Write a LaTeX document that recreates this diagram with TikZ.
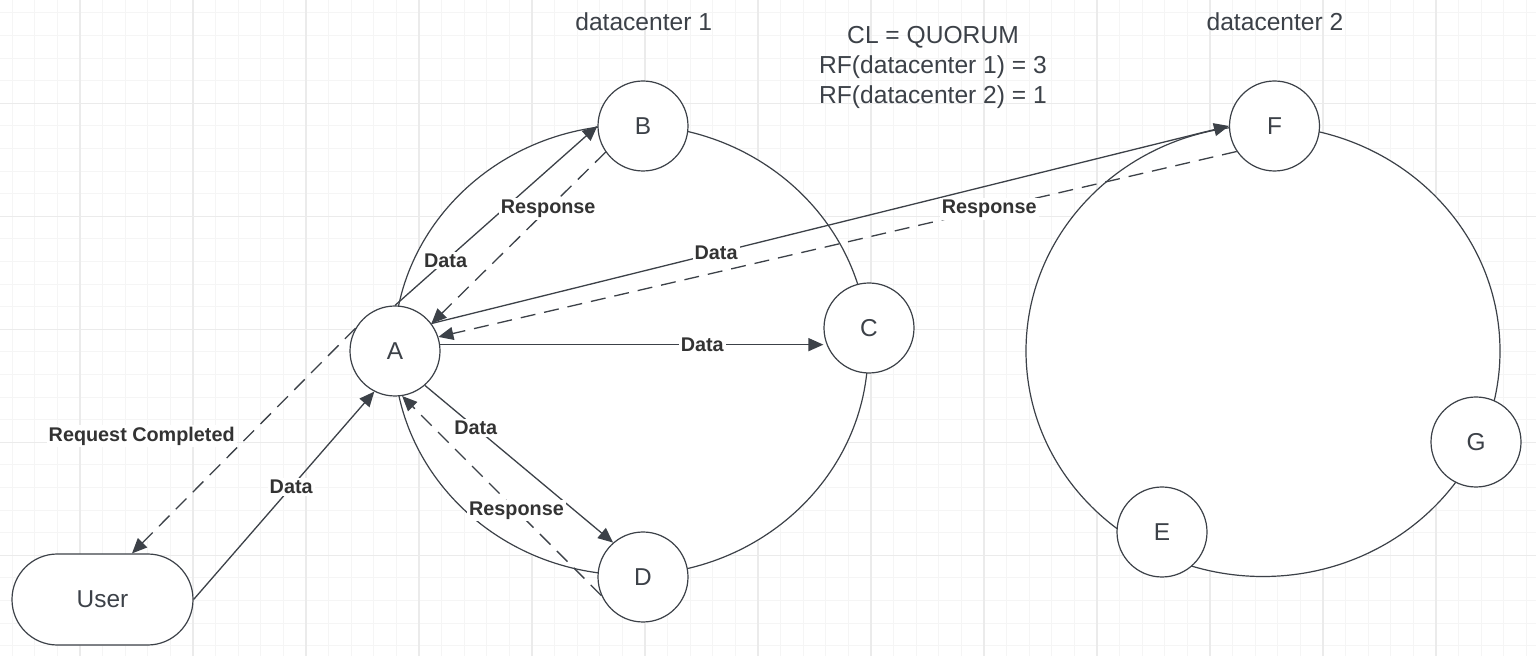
\documentclass[tikz,border=0pt]{standalone}
\usepackage{fontspec}
\setmainfont{Liberation Sans}
\usetikzlibrary{arrows.meta,calc}
\definecolor{ln}{HTML}{3C4148}
\definecolor{tx}{HTML}{333333}
\definecolor{gmin}{HTML}{F5F5F5}
\definecolor{gmaj}{HTML}{EBEBEB}
\begin{document}
\begin{tikzpicture}[x=0.5pt,y=-0.5pt,
  ring/.style={draw=ln,line width=0.6pt,fill=white},
  srv/.style={circle,draw=ln,line width=0.6pt,fill=white,minimum size=45pt,inner sep=0pt,text=ln,font=\fontsize{12.2}{14}\selectfont},
  usr/.style={draw=ln,line width=0.6pt,fill=white,rounded corners=22.7pt,minimum width=90.5pt,minimum height=45.5pt,inner sep=0pt,text=ln,font=\fontsize{12.2}{14}\selectfont},
  conn/.style={draw=ln,line width=0.65pt,-{Triangle[length=7.5pt,width=6.5pt]}},
  resp/.style={conn,dash pattern=on 7.5pt off 4.5pt},
  lbl/.style={fill=white,inner sep=1pt,text=tx,font=\fontsize{9.9}{11}\selectfont\bfseries},
  title/.style={text=ln,font=\fontsize{12.3}{15}\selectfont,align=center,inner sep=0pt}]
\fill[white] (0,0) rectangle (1536,656);
\useasboundingbox (0,0) rectangle (1536,656);
% grid
\foreach \i in {0,...,67} \draw[gmin,line width=0.55pt] ({12.3+22.6*\i},0) -- ({12.3+22.6*\i},656);
\foreach \j in {0,...,28} \draw[gmin,line width=0.55pt] (0,{12.9+22.6*\j}) -- (1536,{12.9+22.6*\j});
\foreach \i in {0,...,13} \draw[gmaj,line width=0.55pt] ({80+113*\i},0) -- ({80+113*\i},656);
\foreach \j in {1,...,5} \draw[gmaj,line width=0.55pt] (0,{-9.7+113*\j}) -- (1536,{-9.7+113*\j});
% rings
\draw[ring] (631,350) ellipse [x radius=237, y radius=225];
\draw[ring] (1263,351) ellipse [x radius=237, y radius=225.5];
% titles
\node[title] (dc1) at (643.7,21.5) {datacenter 1};
\node[title] (dc2) at (1275,21.5) {datacenter 2};
\node[title] (cfg) at (933,67) {CL = QUORUM\\RF(datacenter 1) = 3\\RF(datacenter 2) = 1};
% nodes
\node[srv] (A) at (395,351) {A};
\node[srv] (B) at (643,126) {B};
\node[srv] (C) at (869,328) {C};
\node[srv] (D) at (643,577) {D};
\node[srv] (E) at (1162,532) {E};
\node[srv] (F) at (1274.5,126) {F};
\node[srv] (G) at (1476,442) {G};
\node[usr] (U) at (102.5,599.5) {User};
% connectors
\draw[conn] (A.north) -- node[lbl,pos=0.25]{Data} (B.west);
\draw[resp] (B.215) -- node[lbl,pos=0.33]{Response} (A.37);
\draw[conn] (A.37) -- node[lbl,pos=0.357]{Data} (F.west);
\draw[resp] (F.214) -- node[lbl,pos=0.31]{Response} (A.18);
\draw[conn] (A.8) -- node[lbl,pos=0.684]{Data} (A.8 -| C.west);
\draw[conn] (A.-49) -- node[lbl,pos=0.27]{Data} (D.131);
\draw[resp] (D.204) -- node[lbl,pos=0.426]{Response} (A.-81);
\draw[conn] (U.east) -- node[lbl,pos=0.54]{Data} (A.-117);
\draw[resp] (A.150) -- ([xshift=14.75pt]U.north);
\node[lbl] (rc) at (141.7,436) {Request Completed};
\end{tikzpicture}
\end{document}
